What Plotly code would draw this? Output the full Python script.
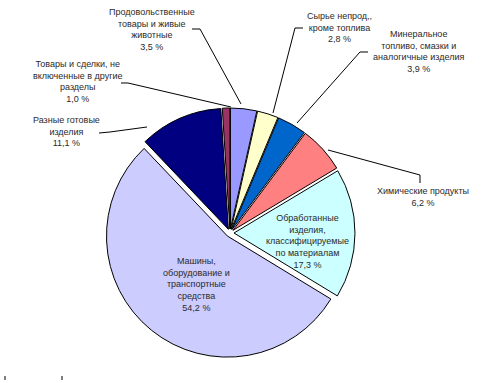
import plotly.graph_objects as go

W, H = 487, 383

# ---- data ----
categories = [
    "Продовольственные<br>товары и живые<br>животные",
    "Сырье непрод.,<br>кроме топлива",
    "Минеральное<br>топливо, смазки и<br>аналогичные изделия",
    "Химические продукты",
    "Обработанные<br>изделия,<br>классифицируемые<br>по материалам",
    "Машины,<br>оборудование и<br>транспортные<br>средства",
    "Разные готовые<br>изделия",
    "Товары и сделки, не<br>включенные в другие<br>разделы",
]
values = [3.5, 2.8, 3.9, 6.2, 17.3, 54.2, 11.1, 1.0]

# ---- styles / layout positions (pixels) ----
colors = ["#9999FF", "#FFFFCC", "#0066CC", "#FF8080",
          "#CCFFFF", "#CCCCFF", "#000080", "#993366"]
pull = 0.033
pie_cx, pie_cy, pie_half = 230, 233, 125

label_pos = [(152, 30), (339, 27), (418, 51), (423, 197),
             (307, 241), (196, 284), (66, 132), (78, 82)]
leaders = [
    [(192, 29), (200, 29), (241, 104)],
    [(303, 28), (295, 28), (273, 113)],
    [(368, 52), (360, 52), (297, 123)],
    [(328, 150), (420, 175), (420, 183)],
    None,
    None,
    [(99, 133), (110, 132), (147, 127)],
    [(121, 83), (128, 83), (231, 107)],
]


def px(x):
    return x / W


def py(y):
    return 1 - y / H


fig = go.Figure(go.Pie(
    labels=[c.replace("<br>", " ") for c in categories],
    values=values,
    sort=False,
    direction="clockwise",
    rotation=0,
    pull=[pull] * len(values),
    marker=dict(colors=colors, line=dict(color="#000000", width=1)),
    textinfo="none",
    hoverinfo="label+percent",
    domain=dict(x=[px(pie_cx - pie_half), px(pie_cx + pie_half)],
                y=[py(pie_cy + pie_half), py(pie_cy - pie_half)]),
))

annotations = []
shapes = []
for cat, val, (lx, ly), ld in zip(categories, values, label_pos, leaders):
    txt = f"{cat}<br>{val:.1f} %".replace(".", ",")
    annotations.append(dict(
        x=px(lx), y=py(ly), xref="paper", yref="paper",
        text=txt, showarrow=False, align="center",
        xanchor="center", yanchor="middle",
        font=dict(family="Liberation Sans, Arial, sans-serif", size=9, color="#2a2a2a"),
    ))
    if ld:
        path = "M " + " L ".join(f"{px(x):.5f},{py(y):.5f}" for x, y in ld)
        shapes.append(dict(type="path", path=path, xref="paper", yref="paper",
                           line=dict(color="#000000", width=1)))

# two small tick marks at the bottom-left
for tx in (5, 62):
    shapes.append(dict(type="line", xref="paper", yref="paper",
                       x0=px(tx), x1=px(tx), y0=py(376), y1=py(380),
                       line=dict(color="#000000", width=1)))

fig.update_layout(
    width=W, height=H,
    margin=dict(l=0, r=0, t=0, b=0),
    paper_bgcolor="white", plot_bgcolor="white",
    showlegend=False,
    annotations=annotations,
    shapes=shapes,
)

fig.write_html("out.html",
               config={"displayModeBar": False},
               post_script="document.body.style.margin='0';document.body.style.overflow='hidden';")
